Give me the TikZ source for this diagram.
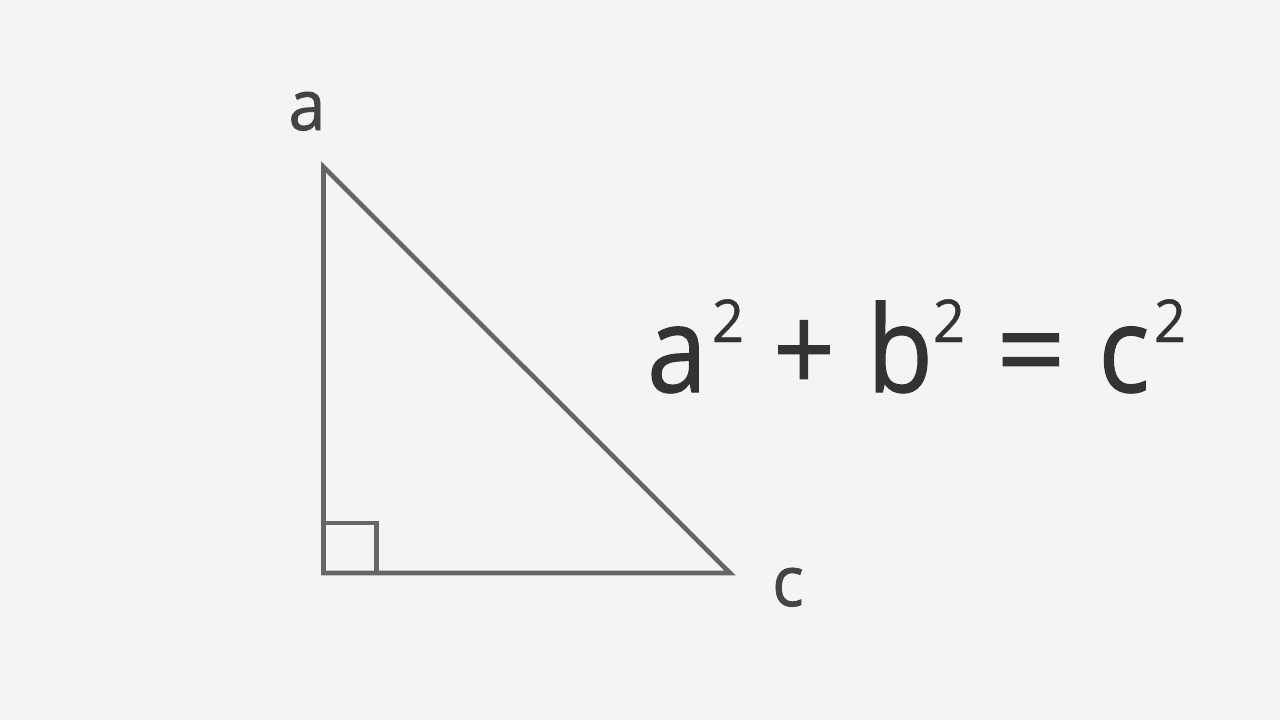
\documentclass[tikz,border=0pt]{standalone}
\usepackage{fontspec}
\setmainfont{Open Sans}
\definecolor{bg}{HTML}{F4F4F4}
\definecolor{edge}{HTML}{666666}
\definecolor{ink}{HTML}{333333}
\definecolor{lbl}{HTML}{444444}
\newcommand{\heavytext}[2]{\special{pdf:literal 2 Tr #1 w}#2\special{pdf:literal 0 Tr}}
\tikzset{
  side/.style={draw=edge, line width=4.6pt, line join=miter},
  biglet/.style={inner sep=0pt, anchor=base, text=ink, xscale=0.9, transform shape, font=\fontsize{120}{120}\selectfont},
  suplet/.style={inner sep=0pt, anchor=base, text=ink, xscale=0.95, transform shape, font=\fontsize{59}{59}\selectfont},
  vlabel/.style={inner sep=0pt, anchor=base, text=lbl, xscale=0.95, transform shape, font=\fontsize{70}{70}\selectfont}
}
\begin{document}
\begin{tikzpicture}[x=1pt,y=-1pt]
\fill[bg] (0,0) rectangle (1280,720);
\useasboundingbox (0,0) rectangle (1280,720);
\coordinate (A) at (323.5,167);
\coordinate (B) at (323.5,573);
\coordinate (C) at (730,573);
\draw[side] (A) -- (B) -- (C) -- cycle;
\coordinate (R1) at (323.5,523);
\coordinate (R2) at (376.5,523);
\coordinate (R3) at (376.5,573);
\draw[side] (R1) -- (R2) -- (R3);
\node[vlabel] (la) at (307,130) {\heavytext{0.8}{a}};
\node[vlabel] (lc) at (788,606) {\heavytext{0.8}{c}};
\node[biglet] (ea) at (677,392) {\heavytext{1.2}{a}};
\node[suplet] (ea2) at (728,342) {\heavytext{0.4}{2}};
\node[biglet] (plus) at (804,392) {\heavytext{1.2}{+}};
\node[biglet] (eb) at (900,392) {\heavytext{1.2}{b}};
\node[suplet] (eb2) at (949,342) {\heavytext{0.4}{2}};
\node[biglet, xscale=1.12] (eq) at (1031,392) {\heavytext{1.4}{=}};
\node[biglet] (ec) at (1124,392) {\heavytext{1.2}{c}};
\node[suplet] (ec2) at (1170,342) {\heavytext{0.4}{2}};
\end{tikzpicture}
\end{document}
